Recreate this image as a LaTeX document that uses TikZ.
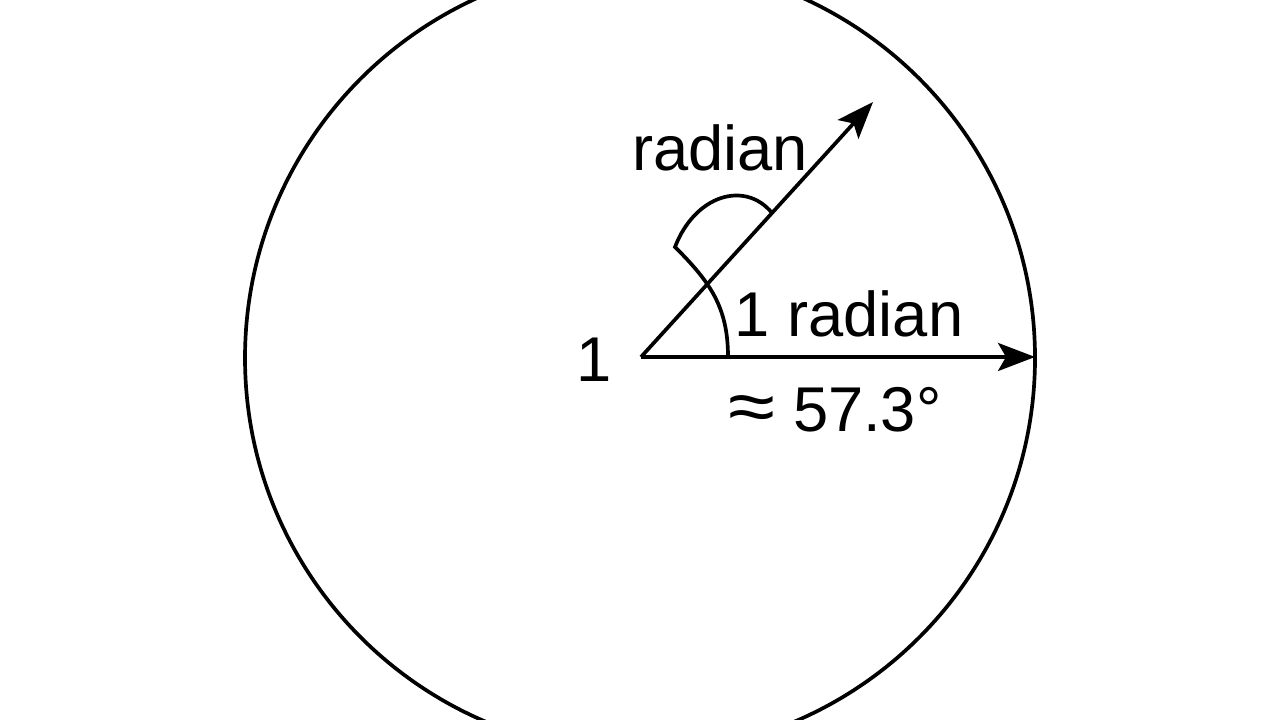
\documentclass[tikz,border=0pt]{standalone}
\usepackage{fontspec}
\setmainfont{Liberation Sans}
\usetikzlibrary{arrows.meta}

\begin{document}
\begin{tikzpicture}[line width=1.05pt,
    lbl/.style={font=\fontsize{18}{20}\selectfont, inner sep=0pt},
    tip/.style={-{Stealth[length=3.7mm,width=2.8mm,inset=0.8mm]}}]
    \useasboundingbox (0,0) rectangle (12.8,7.2);
    \clip (0,0) rectangle (12.8,7.2);
    %circle
    \coordinate (C) at (6.40,3.62);
    \draw (C) circle [radius=3.95];
    %rays
    \coordinate (O) at (6.41,3.63);
    \coordinate (E) at (10.35,3.63);
    \coordinate (R) at (8.73,6.18);
    \draw[tip] (O) -- (E);
    \draw[tip] (O) -- (R);
    %angle mark
    \draw (7.28,3.63) .. controls (7.28,4.13) and (7.10,4.38) .. (6.75,4.73)
          .. controls (6.95,5.25) and (7.45,5.40) .. (7.72,5.07);
    %labels
    \node[lbl] (top) at (7.20,5.72) {radian};
    \node[lbl] (one) at (8.49,4.06) {1 radian};
    \node[lbl] (unit) at (5.94,3.60) {1};
    \node[lbl] (deg) at (8.35,3.10) {\scalebox{1.35}[1.15]{≈}\ 57.3°};
\end{tikzpicture}
\end{document}
